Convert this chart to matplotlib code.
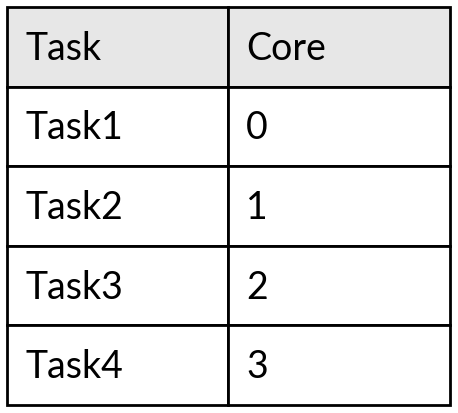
import matplotlib
matplotlib.use('Agg')
import matplotlib.pyplot as plt
from matplotlib.patches import Rectangle

header = ['Task', 'Core']
tasks = ['Task1', 'Task2', 'Task3', 'Task4']
cores = ['0', '1', '2', '3']

W, H = 458, 413
fig = plt.figure(figsize=(W / 100, H / 100), dpi=100)
ax = fig.add_axes([0, 0, 1, 1])
ax.set_xlim(0, W)
ax.set_ylim(H, 0)
ax.axis('off')

left, right, top, bottom = 7, 450, 7, 405
col_x = [left, 228, right]
rows = [header] + [[t, c] for t, c in zip(tasks, cores)]
row_h = (bottom - top) / len(rows)

for i, row in enumerate(rows):
    y0 = top + i * row_h
    for j, txt in enumerate(row):
        x0 = col_x[j]
        fc = '#e7e7e7' if i == 0 else 'white'
        ax.add_patch(Rectangle((x0, y0), col_x[j + 1] - x0, row_h,
                               facecolor=fc, edgecolor='black', lw=2))
        ax.text(x0 + 18, y0 + row_h / 2 + 2, txt, fontsize=27,
                family='Lato', va='center', ha='left')

fig.savefig('out.png', dpi=100, facecolor='white')
